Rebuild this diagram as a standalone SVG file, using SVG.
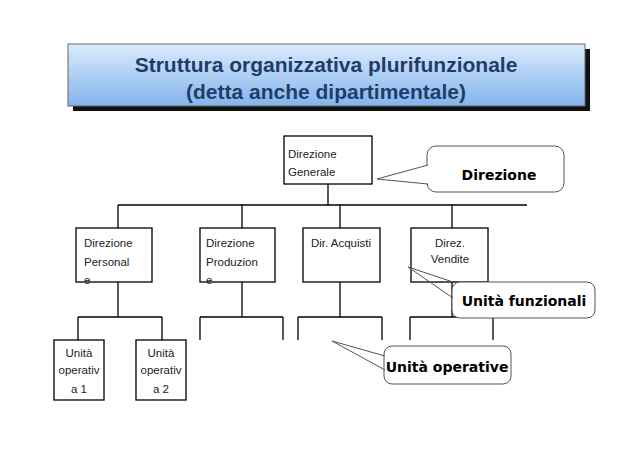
<svg xmlns="http://www.w3.org/2000/svg" width="638" height="451" viewBox="0 0 638 451">
<defs><linearGradient id="g" x1="0" y1="0" x2="0" y2="1"><stop offset="0" stop-color="#dcebfc"/><stop offset="1" stop-color="#84b4ec"/></linearGradient></defs>
<style>
.b{fill:#fff;stroke:#000;stroke-width:1.3}
.t{font-family:"Liberation Sans",Arial,sans-serif;font-size:11.5px;fill:#222}
.c{fill:#fff;stroke:#555;stroke-width:1}
.ct{font-family:"DejaVu Sans",sans-serif;font-weight:bold;font-size:14px;fill:#000}
.l{stroke:#000;stroke-width:1.3;fill:none}
</style>
<g id="title">
<rect x="73" y="49" width="517" height="62" fill="#111"/>
<rect x="68" y="44" width="517" height="62" fill="url(#g)" stroke="#666"/>
<text x="326" y="72" text-anchor="middle" font-family="Liberation Sans,sans-serif" font-weight="bold" font-size="21" fill="#1f3d6b">Struttura organizzativa plurifunzionale</text>
<text x="326" y="99" text-anchor="middle" font-family="Liberation Sans,sans-serif" font-weight="bold" font-size="21" fill="#1f3d6b">(detta anche dipartimentale)</text>
</g>
<g id="connectors">
<path class="l" d="M328 184V205M118 205H527M118 205V228M242 205V228M340 205V228M452 205V228"/>
<path class="l" d="M118 282V317M78 317H162M78 317V340M162 317V340"/>
<path class="l" d="M242 282V317M200 317H283M200 317V340M283 317V340"/>
<path class="l" d="M340 282V317M298 317H382M298 317V340M382 317V340"/>
<path class="l" d="M452 282V317M410 317H493M410 317V340M493 317V340"/>
</g>
<g id="dg"><rect class="b" x="284" y="136" width="88" height="48"/><text class="t" x="288" y="158">Direzione</text><text class="t" x="288" y="176">Generale</text></g>
<g id="dp"><rect class="b" x="76" y="228" width="76" height="54"/><text class="t" x="84" y="247">Direzione</text><text class="t" x="84" y="266">Personal</text><text class="t" x="84" y="284">e</text></g>
<g id="dprod"><rect class="b" x="200" y="228" width="75" height="54"/><text class="t" x="206" y="247">Direzione</text><text class="t" x="206" y="266">Produzion</text><text class="t" x="206" y="284">e</text></g>
<g id="da"><rect class="b" x="303" y="228" width="77" height="54"/><text class="t" x="341" y="247" text-anchor="middle">Dir. Acquisti</text></g>
<g id="dv"><rect class="b" x="411" y="228" width="77" height="54"/><text class="t" x="450" y="247" text-anchor="middle">Direz.</text><text class="t" x="450" y="263" text-anchor="middle">Vendite</text></g>
<g id="u1"><rect class="b" x="54" y="340" width="50" height="60"/><text class="t" x="79" y="357" text-anchor="middle">Unità</text><text class="t" x="79" y="374" text-anchor="middle">operativ</text><text class="t" x="79" y="393" text-anchor="middle">a 1</text></g>
<g id="u2"><rect class="b" x="136" y="340" width="50" height="60"/><text class="t" x="161" y="357" text-anchor="middle">Unità</text><text class="t" x="161" y="374" text-anchor="middle">operativ</text><text class="t" x="161" y="393" text-anchor="middle">a 2</text></g>
<g id="cdir"><rect class="c" x="427" y="146" width="137" height="46" rx="9"/><path fill="#fff" stroke="#555" d="M428 165L377 179L428 184"/><text class="ct" x="499" y="180" text-anchor="middle">Direzione</text></g>
<g id="cfun"><rect class="c" x="452" y="282" width="143" height="36" rx="8"/><path fill="none" stroke="#555" d="M453 282L408 267L453 298"/><text class="ct" x="524" y="306" text-anchor="middle">Unità funzionali</text></g>
<g id="cop"><rect class="c" x="384" y="346" width="127" height="38" rx="8"/><path fill="none" stroke="#555" d="M385 356L332 341L385 370"/><text class="ct" x="447" y="372" text-anchor="middle">Unità operative</text></g>
</svg>
